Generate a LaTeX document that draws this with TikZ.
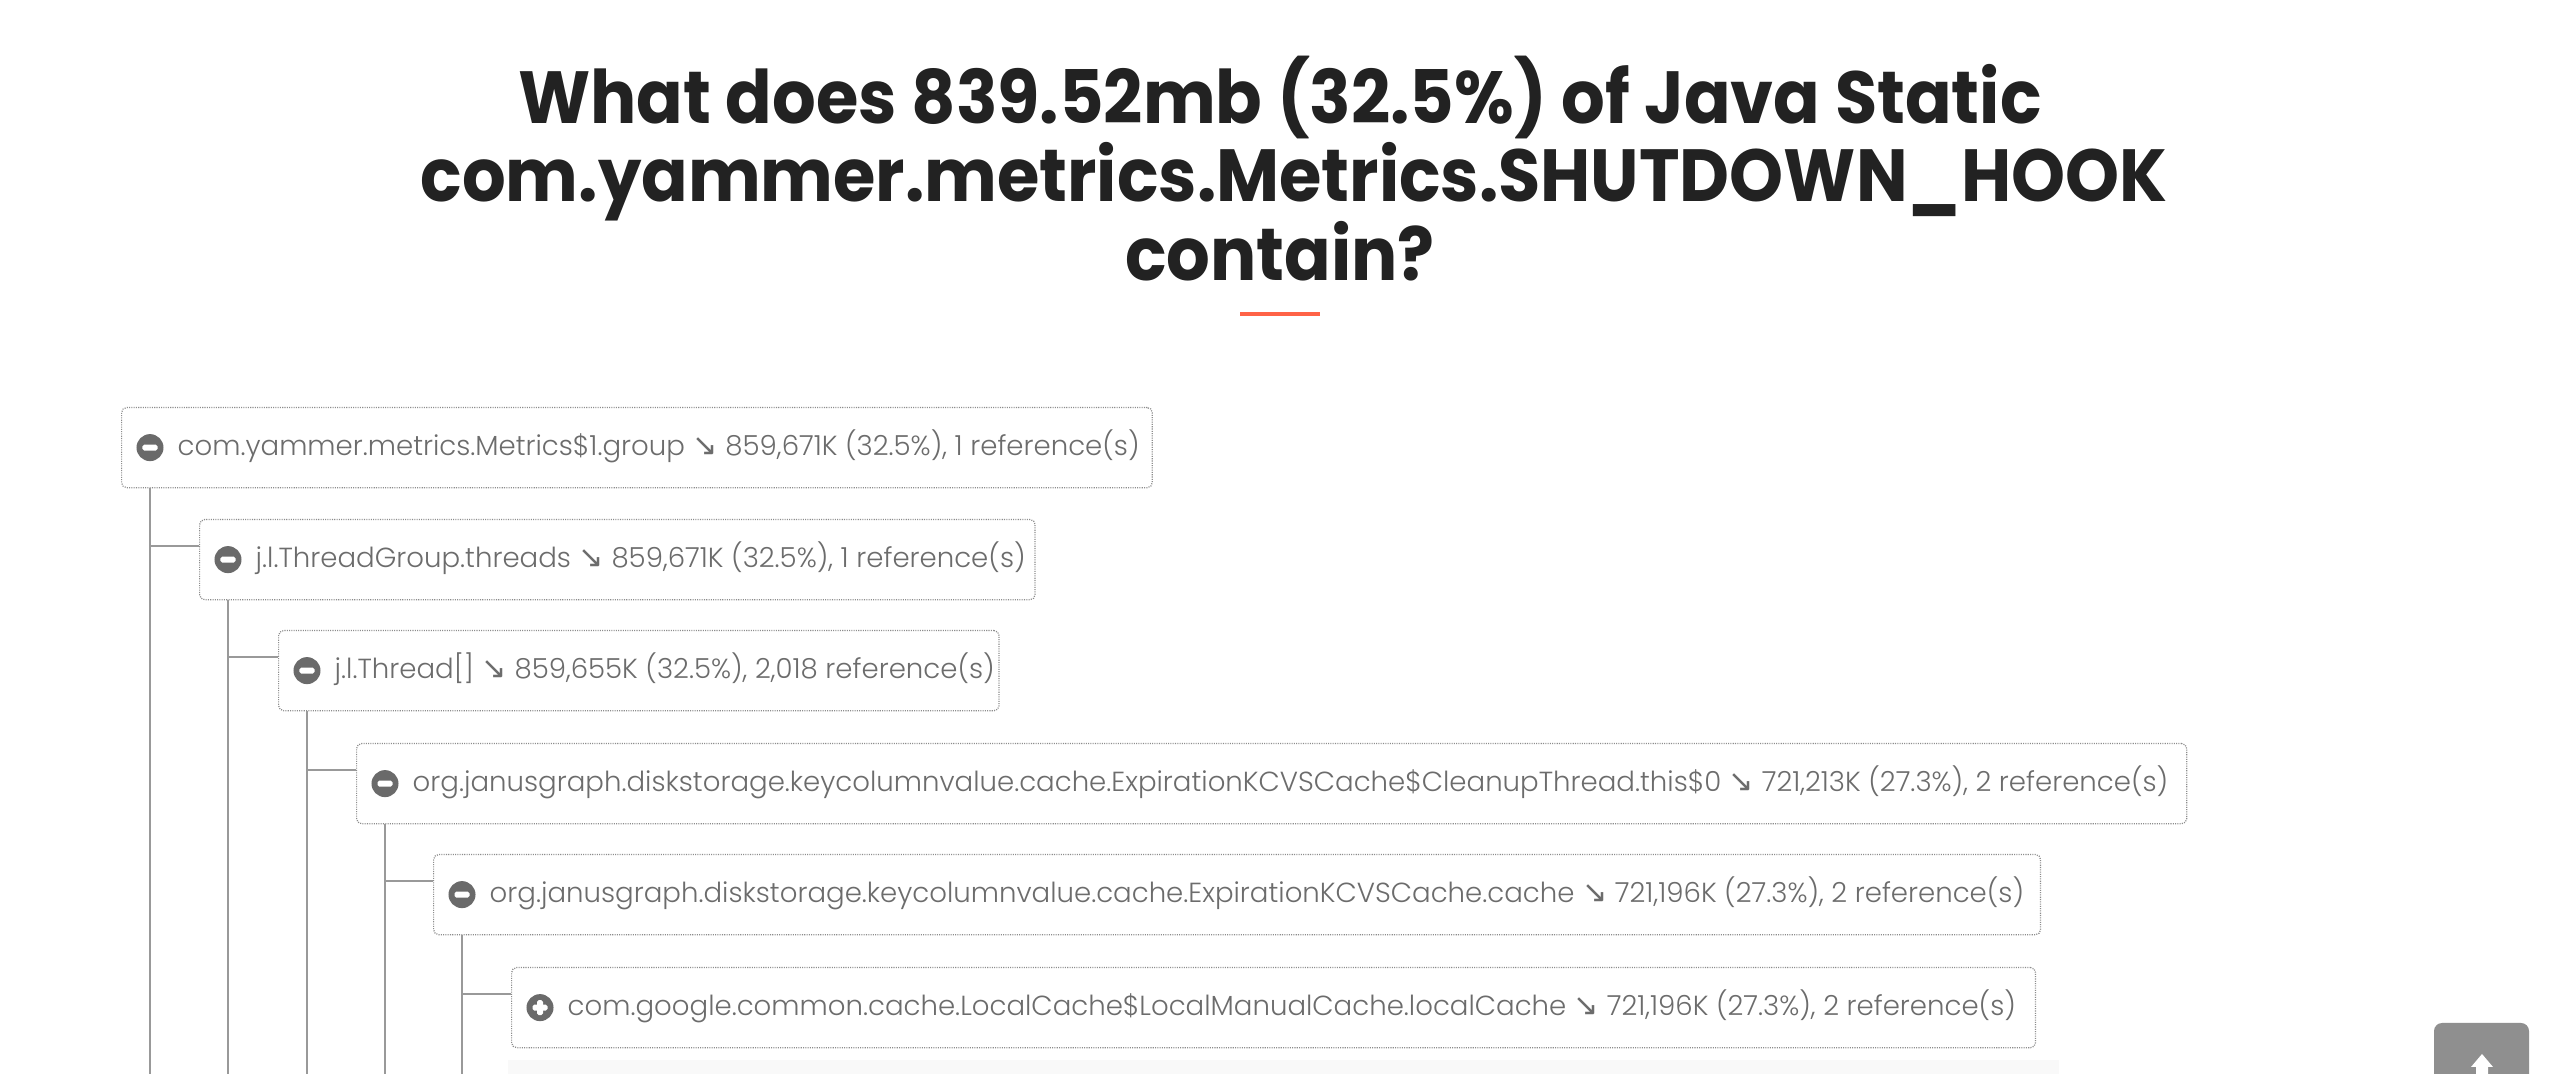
\documentclass[tikz,border=0pt]{standalone}
\usepackage{fontspec}
\setmainfont{Poppins}
\newfontfamily\titlefont{Poppins}[FakeStretch=0.93]
\newfontfamily\treefont{Poppins Light}
\newfontfamily\symfont{DejaVu Sans}
\usepackage{tikz}
\usetikzlibrary{calc, positioning}

\definecolor{titlegray}{HTML}{222222}
\definecolor{textgray}{HTML}{6C6C6C}
\definecolor{linegray}{HTML}{999999}
\definecolor{dotgray}{HTML}{8C8C8C}
\definecolor{icongray}{HTML}{6A6A6A}
\definecolor{btngray}{HTML}{8F8F8F}
\definecolor{accent}{HTML}{FF6347}

\begin{document}
\begin{tikzpicture}[x=0.01cm, y=-0.01cm,
    titleline/.style={font=\titlefont\bfseries\fontsize{21}{26}\selectfont, text=titlegray, inner sep=0pt, anchor=base},
    rowbox/.style={draw=dotgray, line width=0.35pt, dash pattern=on 0.3pt off 0.35pt, rounded corners=1.4pt, minimum height=0.8cm, inner sep=0pt, anchor=north west},
    rowtext/.style={font=\treefont\fontsize{7.85}{9}\selectfont, text=textgray, inner sep=0pt, anchor=base west},
    foldicon/.style={circle, fill=icongray, minimum size=0.27cm, inner sep=0pt},
    foldminus/.style={foldicon, path picture={
        \fill[white, rounded corners=0.5pt] ([shift={(-0.075cm,-0.03cm)}]path picture bounding box.center) rectangle ++(0.15cm,0.06cm);}},
    foldplus/.style={foldicon, path picture={
        \fill[white, rounded corners=0.5pt] ([shift={(-0.075cm,-0.03cm)}]path picture bounding box.center) rectangle ++(0.15cm,0.06cm);
        \fill[white, rounded corners=0.5pt] ([shift={(-0.03cm,-0.075cm)}]path picture bounding box.center) rectangle ++(0.06cm,0.15cm);}},
    treeline/.style={draw=linegray, line width=0.57pt}]

    \useasboundingbox (0,0) rectangle (2560,1074);
    \fill[white] (0,0) rectangle (2560,1074);
    \coordinate (bottom) at (0,1074);

    % Title
    \node[titleline] (title1) at (1280,124) {What does 839.52mb (32.5\%) of Java Static};
    \node[titleline] (title2) at (1294,202) {com.yammer.metrics.Metrics.SHUTDOWN\_HOOK};
    \node[titleline] (title3) at (1280,281) {contain?};
    \draw[accent, line width=0.04cm] (1240,314) -- (1320,314);

    % Next row, only its background shows
    \fill[gray!5] (508,1060) rectangle (2059,1074);

    % Rows of the tree
    \foreach \i/\x/\y/\w/\kind/\name/\size in {
        1/121/407/10.30/foldminus/{com.yammer.metrics.Metrics\$1.group}/{859,671K (32.5\%), 1 reference(s)},
        2/199/519/8.35/foldminus/{j.l.ThreadGroup.threads}/{859,671K (32.5\%), 1 reference(s)},
        3/278/630/7.20/foldminus/{j.l.Thread[]}/{859,655K (32.5\%), 2,018 reference(s)},
        4/356/743/18.29/foldminus/{org.janusgraph.diskstorage.keycolumnvalue.cache.ExpirationKCVSCache\$CleanupThread.this\$0}/{721,213K (27.3\%), 2 reference(s)},
        5/433/854/16.06/foldminus/{org.janusgraph.diskstorage.keycolumnvalue.cache.ExpirationKCVSCache.cache}/{721,196K (27.3\%), 2 reference(s)},
        6/511/967/15.23/foldplus/{com.google.common.cache.LocalCache\$LocalManualCache.localCache}/{721,196K (27.3\%), 2 reference(s)}} {
        \node[rowbox, minimum width=\w cm] (r\i) at (\x,\y) {};
        \node[\kind] (i\i) at ($(r\i.west)+(29,0)$) {};
        \node[rowtext] (t\i) at ($(r\i.west)+(56,8)$) {\name\ {\symfont\fontsize{8.6}{9}\selectfont ↘} \size};
        \coordinate (h\i) at ($(r\i.west)+(0,-14)$);
    }

    % Tree lines
    \foreach \p/\c in {1/2,2/3,3/4,4/5,5/6} {
        \draw[treeline] (i\p |- r\p.south) -- (i\p |- bottom);
        \draw[treeline] (i\p |- h\c) -- (h\c);
    }

    % Back to top button
    \fill[btngray] (2434,1074) [rounded corners=0.08cm] -- (2434,1023) -- (2529,1023) [sharp corners] -- (2529,1074) -- cycle;
    \fill[white] (2482,1054) -- (2493,1067) -- (2488,1067) -- (2488,1074) -- (2476,1074) -- (2476,1067) -- (2471,1067) -- cycle;
\end{tikzpicture}
\end{document}
